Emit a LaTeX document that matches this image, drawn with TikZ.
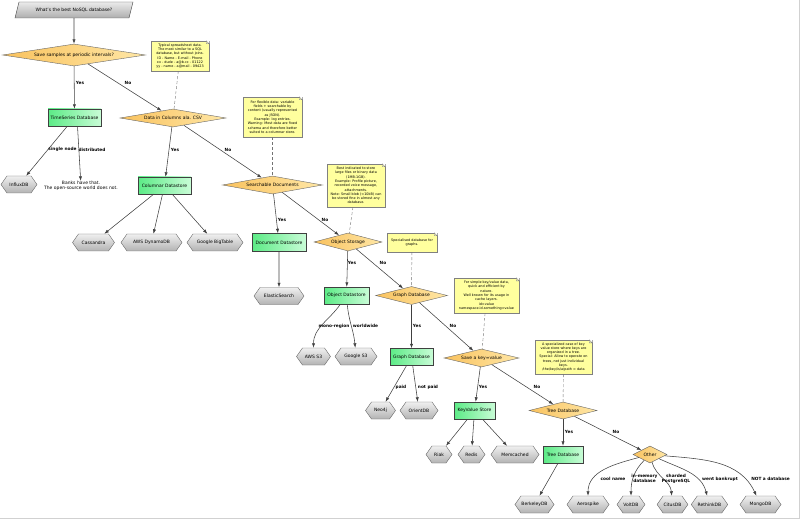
\documentclass[tikz,border=0pt]{standalone}
\usepackage{fontspec}
\setmainfont{DejaVu Sans}
\usepackage{xcolor}
\usepackage{tikz}
\usetikzlibrary{shapes,arrows.meta,positioning,calc}

\definecolor{boxleft}{HTML}{5CEB86}
\definecolor{boxright}{HTML}{C8FCD6}
\definecolor{qleft}{HTML}{F9C25E}
\definecolor{qright}{HTML}{FFE7A6}
\definecolor{noteyellow}{HTML}{FFFF9E}

\begin{document}
\begin{tikzpicture}[x=1pt, y=1pt,
    startbox/.style={trapezium, trapezium left angle=45, trapezium right angle=135,
        trapezium stretches body, draw=black!70, line width=0.4pt,
        top color=black!8, bottom color=black!32, inner sep=0pt,
        minimum width=118pt, minimum height=16pt, font=\fontsize{4.5}{5.5}\selectfont},
    question/.style={diamond, aspect=6, draw=black!60, line width=0.4pt,
        left color=qleft, right color=qright, inner sep=0pt,
        font=\fontsize{4.5}{5.5}\selectfont},
    dbbox/.style={rectangle, draw=black!75, line width=0.4pt,
        left color=boxleft, right color=boxright, inner sep=0pt,
        minimum height=17pt, font=\fontsize{4.5}{5.5}\selectfont},
    dbhex/.style={signal, signal to=west and east, signal pointer angle=110,
        draw=black!60, line width=0.4pt, top color=black!6, bottom color=black!30,
        inner sep=0.5pt, minimum height=17pt, font=\fontsize{4.5}{5.5}\selectfont},
    notebox/.style={rectangle, draw=black!50, line width=0.3pt, fill=noteyellow,
        align=center, inner sep=0pt, font=\fontsize{3.4}{4.3}\selectfont},
    plaintext/.style={align=center, inner sep=0pt, font=\fontsize{4.5}{5.5}\selectfont},
    edgelabel/.style={align=center, inner sep=0pt, font=\bfseries\fontsize{4.3}{4.9}\selectfont},
    arrow/.style={-{Latex[length=4.5pt,width=3.2pt]}, draw=black!75, line width=0.55pt},
    noteline/.style={draw=black!55, line width=0.4pt, densely dashed}
]
    \useasboundingbox (0,0) rectangle (800,-521);
    \draw[black!18] (0,-518.5) -- (799.5,-518.5) -- (799.5,0);

    % Start and time series
    \node[startbox] (start) at (74,-10) {What's the best NoSQL database?};
    \node[question, minimum width=143pt, minimum height=22pt] (samples) at (74,-55) {Save samples at periodic intervals?};
    \node[dbbox, minimum width=53pt] (tsdb) at (74.5,-117.5) {TimeSeries Database};
    \node[dbhex, minimum width=36pt] (influx) at (19,-184.5) {InfluxDB};
    \node[plaintext] (banks) at (81,-186) {Banks have that.\\The open-source world does not.};

    % Columns
    \node[notebox, minimum width=58pt, minimum height=30pt] (note1) at (180,-56) {Typical spreadsheet data.\\The most similar to a SQL\\database, but without joins.\\ID - Name - E-mail - Phone\\xx - dude - a@b.cc - 01122\\yy - name - a@mail - 09423};
    \node[question, minimum width=106pt, minimum height=18pt] (columns) at (173,-118) {Data in Columns ala. CSV};
    \node[dbbox, minimum width=53pt] (coldb) at (164.5,-185.5) {Columnar Datastore};
    \node[dbhex, minimum width=42pt] (cassandra) at (93.5,-242.5) {Cassandra};
    \node[dbhex, minimum width=61pt] (dynamo) at (151.5,-242.5) {AWS DynamoDB};
    \node[dbhex, minimum width=56pt] (bigtable) at (215,-242.5) {Google BigTable};

    % Documents
    \node[notebox, minimum width=59pt, minimum height=40pt] (note2) at (272.5,-117) {For flexible data: variable\\fields + searchable by\\content (usually represented\\as JSON).\\Example: log entries.\\Warning: Most data are fixed\\schema and therefore better\\suited to a columnar store.};
    \node[question, minimum width=100pt, minimum height=18pt] (searchable) at (272.5,-185) {Searchable Documents};
    \node[dbbox, minimum width=54pt, minimum height=18pt] (docdb) at (279,-242.5) {Document Datastore};
    \node[dbhex, minimum width=50pt] (elastic) at (279,-296) {ElasticSearch};

    % Objects
    \node[notebox, minimum width=58pt, minimum height=43pt] (note3) at (356,-185.5) {Best indicated to store\\large files or binary data\\(1MB-1GB).\\Example: Profile picture,\\recorded voice message,\\attachments.\\Note: Small blob (<10kB) can\\be stored fine in almost any\\database.};
    \node[question, minimum width=68pt, minimum height=18pt] (objstorage) at (348,-242) {Object Storage};
    \node[dbbox, minimum width=45pt] (objdb) at (346.5,-295.5) {Object Datastore};
    \node[dbhex, minimum width=34pt] (awss3) at (313.5,-356.5) {AWS S3};
    \node[dbhex, minimum width=42pt] (googles3) at (356,-356.5) {Google S3};

    % Graphs
    \node[notebox, minimum width=50pt, minimum height=19pt] (note4) at (412,-242.5) {Specialised database for\\graphs.};
    \node[question, minimum width=72pt, minimum height=18pt] (graphq) at (411.5,-295.5) {Graph Database};
    \node[dbbox, minimum width=43pt] (graphdb) at (411.5,-357) {Graph Database};
    \node[dbhex, minimum width=30pt] (neo4j) at (380.5,-410.5) {Neo4j};
    \node[dbhex, minimum width=38pt] (orient) at (419,-410.5) {OrientDB};

    % Key values
    \node[notebox, minimum width=65pt, minimum height=35pt] (note5) at (486.5,-295.5) {For simple key/value data,\\quick and efficient by\\nature.\\Well known for its usage in\\cache layers.\\id=value\\namespace.id.something=value};
    \node[question, minimum width=75pt, minimum height=18pt] (keyvalue) at (481.5,-358) {Save a key=value};
    \node[dbbox, minimum width=41pt] (kvdb) at (474.5,-410.5) {KeyValue Store};
    \node[dbhex, minimum width=26pt] (riak) at (439,-454.5) {Riak};
    \node[dbhex, minimum width=27pt] (redis) at (471.5,-454.5) {Redis};
    \node[dbhex, minimum width=48pt] (memcached) at (515,-454.5) {Memcached};

    % Trees
    \node[notebox, minimum width=57pt, minimum height=34pt] (note6) at (563.5,-357) {A specialized case of key\\value store where keys are\\organized in a tree.\\Special: Allow to operate on\\trees, not just individual\\keys.\\/the/key/is/a/path = data};
    \node[question, minimum width=68pt, minimum height=17pt] (treeq) at (563,-410.5) {Tree Database};
    \node[dbbox, minimum width=40pt] (treedb) at (563,-454.5) {Tree Database};
    \node[dbhex, minimum width=37pt] (berkeley) at (534.5,-504.5) {BerkeleyDB};

    % Other
    \node[question, aspect=2, minimum width=34pt, minimum height=17pt] (other) at (650,-454.5) {Other};
    \node[dbhex, minimum width=42pt] (aerospike) at (588,-504.5) {Aerospike};
    \node[dbhex, minimum width=24pt] (voltdb) at (631,-504.5) {VoltDB};
    \node[dbhex, minimum width=27pt] (citusdb) at (672.5,-504.5) {CitusDB};
    \node[dbhex, minimum width=35pt] (rethinkdb) at (709.5,-504.5) {RethinkDB};
    \node[dbhex, minimum width=41pt] (mongodb) at (760.5,-504.5) {MongoDB};

    % note folds
    \foreach \n in {note1,note2,note3,note4,note5,note6} {
        \fill[white] ([xshift=-3pt]\n.north east) -- ([shift={(0.3pt,0.3pt)}]\n.north east) -- ([yshift=-3pt]\n.north east) -- cycle;
        \draw[black!50, line width=0.3pt, fill=noteyellow!70!white] ([xshift=-3pt]\n.north east) -- ([yshift=-3pt]\n.north east) -- ([shift={(-3pt,-3pt)}]\n.north east) -- cycle;
    }

    % dashed note connectors
    \draw[noteline] (note1) -- (columns);
    \draw[noteline] (note2) -- (searchable);
    \draw[noteline] (note3) -- (objstorage);
    \draw[noteline] (note4) -- (graphq);
    \draw[noteline] (note5) -- (keyvalue);
    \draw[noteline] (note6) -- (treeq);

    % connectors
    \draw[arrow] (start) -- (samples);
    \draw[arrow] (samples) -- (tsdb);
    \draw[arrow] (samples) -- (columns);
    \draw[arrow] (tsdb) -- (influx);
    \draw[arrow] ([xshift=3pt]tsdb.south) -- (banks);
    \draw[arrow] (columns) -- (coldb);
    \draw[arrow] (columns) -- (searchable);
    \foreach \t in {cassandra,dynamo,bigtable}
        \draw[arrow] (coldb) -- (\t);
    \draw[arrow] (searchable) -- (docdb);
    \draw[arrow] (searchable) -- (objstorage);
    \draw[arrow] (docdb) -- (elastic);
    \draw[arrow] (objstorage) -- (objdb);
    \draw[arrow] (objstorage) -- (graphq);
    \draw[arrow] (objdb) to[out=-125, in=90] (awss3);
    \draw[arrow] (objdb) to[out=-85, in=95] (googles3);
    \draw[arrow] (graphq) -- (graphdb);
    \draw[arrow] (graphq) -- (keyvalue);
    \draw[arrow] (graphdb) -- (neo4j);
    \draw[arrow] (graphdb) -- (orient);
    \draw[arrow] (keyvalue) -- (kvdb);
    \draw[arrow] (keyvalue) -- (treeq);
    \foreach \t in {riak,redis,memcached}
        \draw[arrow] (kvdb) -- (\t);
    \draw[arrow] (treeq) -- (treedb);
    \draw[arrow] (treeq) -- (other);
    \draw[arrow] (treedb) -- (berkeley);
    \draw[arrow] (other) to[out=195, in=90] (aerospike);
    \draw[arrow] (other) to[out=-135, in=90] (voltdb);
    \draw[arrow] (other) to[out=-75, in=95] (citusdb);
    \draw[arrow] (other) to[out=-25, in=105] (rethinkdb);
    \draw[arrow] (other) to[out=-5, in=115] (mongodb);

    % edge labels
    \node[edgelabel] (l1) at (80,-83) {Yes};
    \node[edgelabel] (l2) at (128,-83) {No};
    \node[edgelabel] (l3) at (62.5,-149.5) {single node};
    \node[edgelabel] (l4) at (92,-149.5) {distributed};
    \node[edgelabel] (l5) at (175,-149.5) {Yes};
    \node[edgelabel] (l6) at (228,-149.5) {No};
    \node[edgelabel] (l7) at (282,-219.5) {Yes};
    \node[edgelabel] (l8) at (325,-219.5) {No};
    \node[edgelabel] (l9) at (352,-263) {Yes};
    \node[edgelabel] (l10) at (383,-263) {No};
    \node[edgelabel] (l11) at (334,-326) {mono-region};
    \node[edgelabel] (l12) at (365.5,-326) {worldwide};
    \node[edgelabel] (l13) at (417,-326) {Yes};
    \node[edgelabel] (l14) at (453,-326) {No};
    \node[edgelabel] (l15) at (401,-387) {paid};
    \node[edgelabel] (l16) at (428,-387) {not paid};
    \node[edgelabel] (l17) at (483,-387) {Yes};
    \node[edgelabel] (l18) at (537,-387) {No};
    \node[edgelabel] (l19) at (569,-432) {Yes};
    \node[edgelabel] (l20) at (616,-432) {No};
    \node[edgelabel] (l21) at (613,-479) {cool name};
    \node[edgelabel] (l22) at (644.5,-478.5) {in-memory\\database};
    \node[edgelabel] (l23) at (676,-478.5) {sharded\\PostgreSQL};
    \node[edgelabel] (l24) at (720,-479) {went bankrupt};
    \node[edgelabel] (l25) at (770.5,-479) {NOT a database};
\end{tikzpicture}
\end{document}
